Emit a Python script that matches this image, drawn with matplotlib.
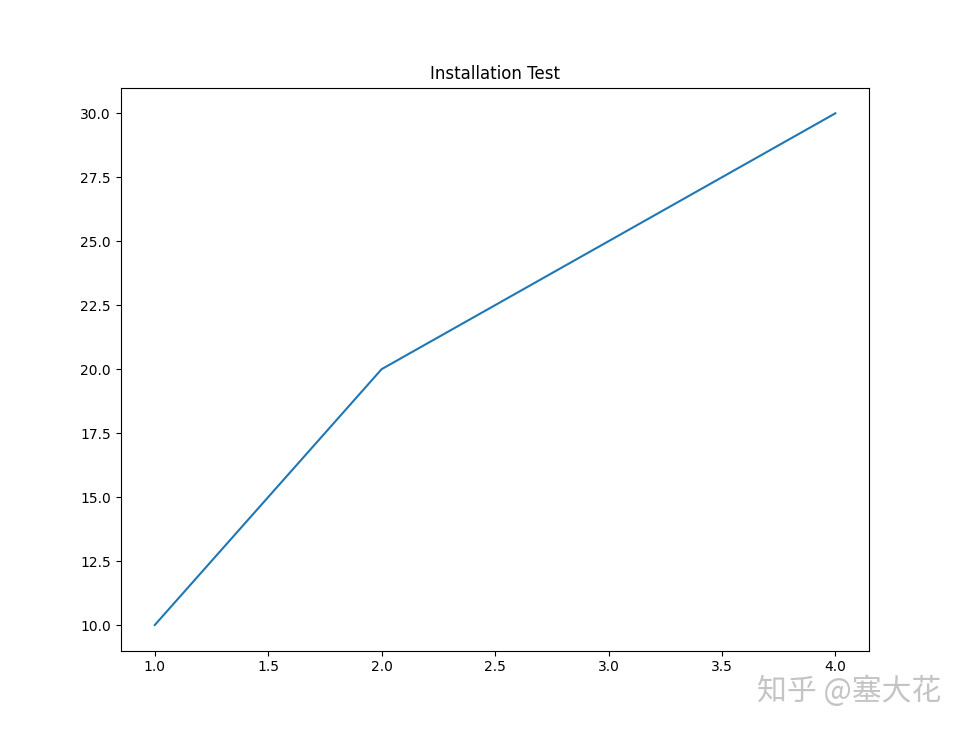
import matplotlib
matplotlib.use("Agg")
import matplotlib.pyplot as plt

x = [1, 2, 3, 4]
y = [10, 20, 25, 30]

fig = plt.figure(figsize=(9.66, 7.31), dpi=100)
ax = fig.add_subplot(111)
ax.plot(x, y)
ax.set_title("Installation Test")
fig.text(0.975, 0.033, "知乎 @塞大花", ha="right", va="bottom", fontsize=21.5,
         color="#c4c4c4", family=["Noto Sans CJK SC", "DejaVu Sans"])
fig.savefig("out.png", dpi=100)
